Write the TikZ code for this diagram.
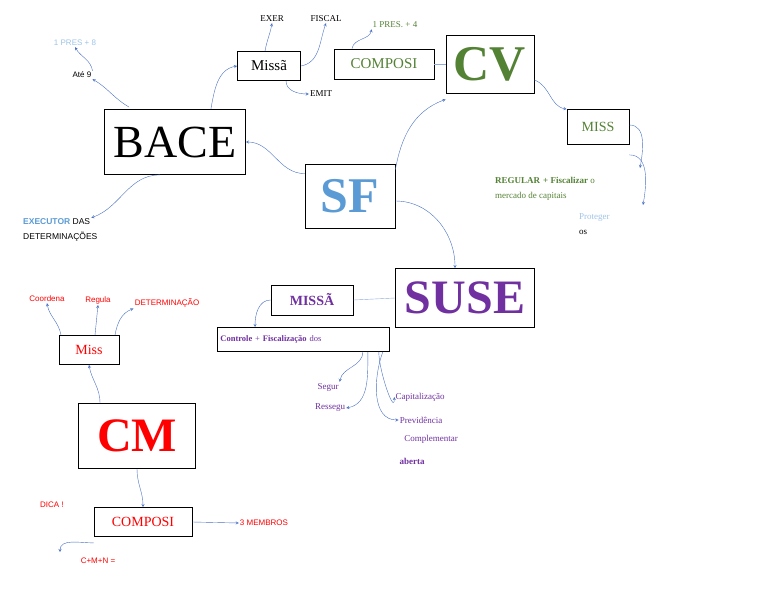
\documentclass[tikz,border=0pt]{standalone}
\usepackage{fontspec}
\setmainfont{Liberation Serif}
\newfontfamily\sansf{Liberation Sans}
\usetikzlibrary{arrows, positioning}
\definecolor{arrblue}{RGB}{72,112,196}
\definecolor{sfblue}{RGB}{91,155,213}
\definecolor{cvgreen}{RGB}{84,130,53}
\definecolor{susepurple}{RGB}{112,48,160}
\definecolor{lightblue}{RGB}{157,195,230}

\begin{document}
\begin{tikzpicture}[
    x = 1pt, y = -1pt,
    > = stealth, % arrow head style
    box/.style = {draw, thick, inner sep = 0pt},
    small/.style = {font=\sansf\fontsize{8}{9}\selectfont, inner sep = 1pt},
    note/.style = {font=\fontsize{9}{10}\selectfont, inner sep = 1pt, align = left},
    link/.style = {->, arrblue, thin}
]
\useasboundingbox (0,0) rectangle (768,594);

% big boxes
\node[box, minimum width=141pt, minimum height=65pt, font=\fontsize{46}{46}\selectfont] (bace) at (175,142) {BACE};
\node[box, minimum width=90pt, minimum height=64pt, text=sfblue, font=\bfseries\fontsize{50}{50}\selectfont] (sf) at (350,196) {SF};
\node[box, minimum width=88pt, minimum height=58pt, text=cvgreen, font=\bfseries\fontsize{50}{50}\selectfont] (cv) at (490,64) {CV};
\node[box, minimum width=139pt, minimum height=59pt, text=susepurple, font=\bfseries\fontsize{48}{48}\selectfont] (suse) at (465,298) {SUSE};
\node[box, minimum width=117pt, minimum height=65pt, text=red, font=\bfseries\fontsize{48}{48}\selectfont] (cm) at (137,436) {CM};

% small boxes
\node[box, minimum width=63pt, minimum height=29pt, font=\fontsize{15}{15}\selectfont] (missa) at (269,66) {Missã};
\node[box, minimum width=100pt, minimum height=30pt, text=cvgreen, font=\fontsize{15}{15}\selectfont] (composi) at (384,64) {COMPOSI};
\node[box, minimum width=62pt, minimum height=35pt, text=cvgreen, font=\fontsize{14}{14}\selectfont] (miss) at (598,127) {MISS};
\node[box, minimum width=82pt, minimum height=30pt, text=susepurple, font=\bfseries\fontsize{14}{14}\selectfont] (missaS) at (312,300) {MISSÃ};
\node[box, minimum width=172pt, minimum height=24pt, text=susepurple, font=\fontsize{8.5}{10}\selectfont, anchor=north west, text width=166pt, align=left] (controle) at (217,327) {\textbf{Controle} + \textbf{Fiscalização} dos};
\node[box, minimum width=60pt, minimum height=29pt, text=red, font=\fontsize{14}{14}\selectfont] (missR) at (89,350) {Miss};
\node[box, minimum width=98pt, minimum height=29pt, text=red, font=\fontsize{14}{14}\selectfont] (composiR) at (143,522) {COMPOSI};

% texts
\node[small, text=lightblue] (pres8) at (75,43) {1 PRES + 8};
\node[small] (ate9) at (82,75) {Até 9};
\node[note] (exer) at (272,19) {EXER};
\node[note] (fiscal) at (326,19) {FISCAL};
\node[note] (emit) at (321,94) {EMIT};
\node[note, text=cvgreen] (pres4) at (395,25) {1 PRES. + 4};
\node[note, text=cvgreen, anchor=west] (regular) at (494,180) {\textbf{REGULAR\,\,+ Fiscalizar} o};
\node[note, text=cvgreen, anchor=west] (mercado) at (494,196) {mercado de capitais};
\node[note, text=lightblue, anchor=west] (proteger) at (578,218) {Proteger};
\node[note, anchor=west] (os) at (578,232) {os};
\node[small, anchor=west, font=\sansf\fontsize{8.5}{10}\selectfont] (executor) at (22,222) {\textcolor{sfblue}{\textbf{EXECUTOR}} DAS};
\node[small, anchor=west, font=\sansf\fontsize{8.5}{10}\selectfont] (determinacoes) at (22,237) {DETERMINAÇÕES};
\node[small, text=red] (coordena) at (47,299) {Coordena};
\node[small, text=red] (regula) at (98,300) {Regula};
\node[small, text=red] (determinacao) at (167,303) {DETERMINAÇÃO};
\node[small, text=red] (dica) at (52,505) {DICA !};
\node[small, text=red] (cmn) at (98,561) {C+M+N =};
\node[small, text=red] (membros) at (264,523) {3 MEMBROS};
\node[note, text=susepurple] (segur) at (328,387) {Segur};
\node[note, text=susepurple] (ressegu) at (330,408) {Ressegu};
\node[note, text=susepurple] (capital) at (420,397) {Capitalização};
\node[note, text=susepurple] (previd) at (421,420) {Previdência};
\node[note, text=susepurple] (complem) at (431,439) {Complementar};
\node[note, text=susepurple] (aberta) at (412,461) {\textbf{aberta}};
\coordinate (missend1) at (640,168);
\coordinate (missend2) at (643,205);
\coordinate (cmnend) at (60,552);

% connectors
\draw[link] (bace.north west) ++(25,-2) to[out=150,in=-30] (ate9.south east);
\draw[link] (ate9.north east) to[out=100,in=-60] (pres8.south);
\draw[link] ([xshift=-35pt]bace.north east) to[out=80,in=190] (missa.west);
\draw[link] ([xshift=-4pt]missa.north) to[out=80,in=-100] (exer.south);
\draw[link] (missa.east) to[out=10,in=-110] (fiscal.south);
\draw[link] ([xshift=17pt]missa.south) to[out=-90,in=180] (emit.west);
\draw[link] ([xshift=-32pt]composi.north) to[out=80,in=-100] (pres4.south west);
\draw[arrblue!60] (composi.east) -- (cv.west);
\draw[link] ([yshift=-6pt]sf.north east) to[out=80,in=200] ([yshift=-6pt]cv.south west);
\draw[link] ([yshift=-10pt]sf.north west) to[out=180,in=0] (bace.east);
\draw[link] ([xshift=-15pt]bace.south) to[out=180,in=20] (executor.north east);
\draw[link] ([yshift=-5pt]sf.east) to[out=0,in=90] ([xshift=-10pt]suse.north);
\draw[link] ([yshift=-16pt]cv.east) to[out=-20,in=170] (miss.north west);
\draw[link] ([yshift=2pt]miss.east) to[out=0,in=80] (missend1);
\draw[link] ([yshift=-10pt]miss.south east) to[out=0,in=80] (missend2);
\draw[arrblue!60] (suse.west) -- (missaS.east);
\draw[link] (missaS.west) to[out=180,in=90] ([xshift=38pt]controle.north west);
\draw[link] ([xshift=-27pt]controle.south east) to[out=-90,in=80] (segur.north east);
\draw[link] ([xshift=-22pt]controle.south east) to[out=-90,in=10] (ressegu.east);
\draw[link] ([xshift=-11pt]controle.south east) to[out=-90,in=-90] (capital.west);
\draw[link] ([xshift=-7pt]controle.south east) to[out=-110,in=180] (previd.west);
\draw[link] ([xshift=-37pt]cm.north) to[out=90,in=-80] (missR.south);
\draw[link] ([xshift=-28pt]missR.north) to[out=100,in=-80] (coordena.south);
\draw[link] (missR.north) ++(6,0) -- (regula.south);
\draw[link] ([xshift=26pt]missR.north) to[out=80,in=200] (determinacao.south west);
\draw[link] (cm.south) to[out=-90,in=90] (composiR.north);
\draw[link] (composiR.east) -- (membros.west);
\draw[link] ([yshift=-6pt]composiR.south west) to[out=180,in=90] (cmnend);
\end{tikzpicture}
\end{document}
